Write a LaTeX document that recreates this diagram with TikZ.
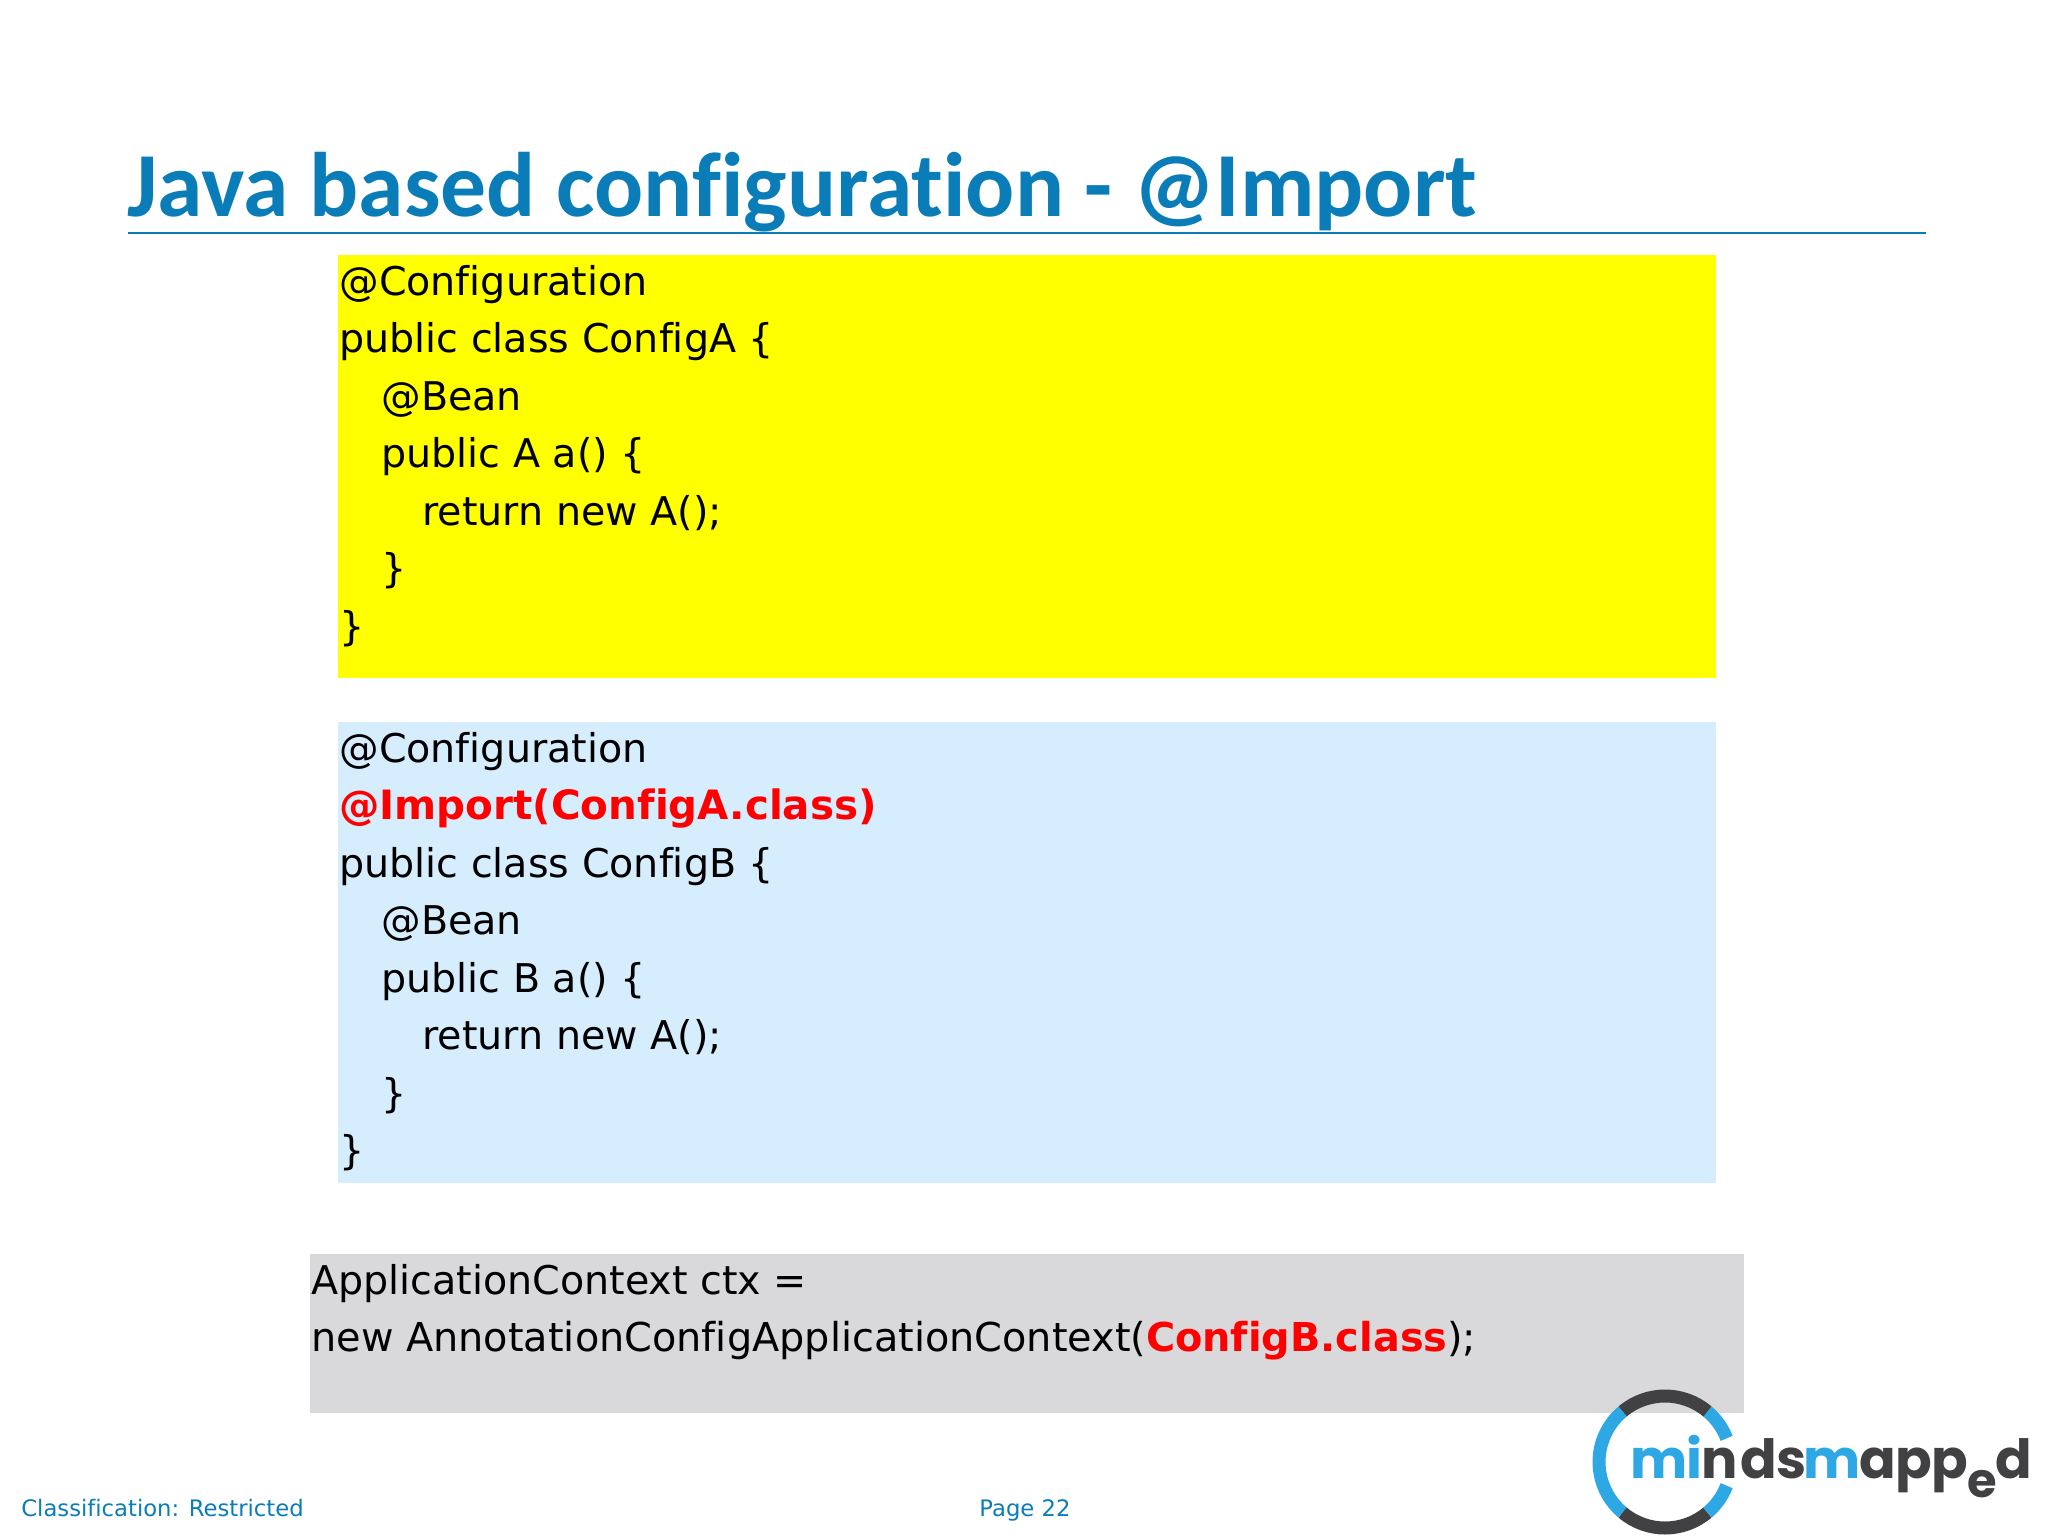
\documentclass[tikz,border=0pt]{standalone}
\usepackage{fontspec}
\setmainfont[Ligatures=NoCommon]{DejaVu Sans}
\newfontfamily\titlefont[Ligatures=NoCommon]{Carlito}
\newfontfamily\logofont{Poppins}
\definecolor{titleblue}{HTML}{0A7DB8}
\definecolor{pureyellow}{HTML}{FFFF00}
\definecolor{paleblue}{HTML}{D6EDFD}
\definecolor{palegray}{HTML}{D9D9DB}
\definecolor{logoblue}{HTML}{2EA8E4}
\definecolor{logodark}{HTML}{414143}
\tikzset{
    codeline/.style={anchor=base west,inner sep=0pt,font=\fontsize{19.8}{24}\selectfont,text=black},
    footline/.style={anchor=base west,inner sep=0pt,font=\fontsize{11.35}{14}\selectfont,text=titleblue},
    logoletter/.style={anchor=base west,inner sep=0pt,font=\logofont\bfseries\fontsize{27}{32}\selectfont},
    ringpart/.style={line width=6.5pt},
}

\begin{document}
\begin{tikzpicture}[x=0.5pt,y=-0.5pt]

    \useasboundingbox (0,0) rectangle (2048,1536);

    % title
    \node[anchor=base west,inner sep=0pt,text=titleblue,font=\titlefont\bfseries\fontsize{45.8}{54}\selectfont] (title) at (127,216) {Java based configuration - @Import};
    \coordinate (ruleL) at (128,233);
    \coordinate (ruleR) at (1926,233);
    \draw[titleblue,line width=0.6pt] (ruleL) -- (ruleR);

    % boxes
    \fill[pureyellow] (338,255) rectangle (1716,678);
    \fill[paleblue] (338,722) rectangle (1716,1183);
    \fill[palegray] (310,1254) rectangle (1744,1413);

    % ConfigA
    \node[codeline] (a1) at (339,295) {@Configuration};
    \node[codeline] (a2) at (339,352) {public class ConfigA \{};
    \node[codeline] (a3) at (381,410) {@Bean};
    \node[codeline] (a4) at (381,467) {public A a() \{};
    \node[codeline] (a5) at (422,525) {return new A();};
    \node[codeline] (a6) at (381,582) {\}};
    \node[codeline] (a7) at (339,640) {\}};

    % ConfigB
    \node[codeline] (b1) at (339,762) {@Configuration};
    \node[codeline,text=red,font=\fontsize{20.2}{24}\selectfont\bfseries] (b2) at (339,819) {@Import(ConfigA.class)};
    \node[codeline] (b3) at (339,877) {public class ConfigB \{};
    \node[codeline] (b4) at (381,934) {@Bean};
    \node[codeline] (b5) at (381,992) {public B a() \{};
    \node[codeline] (b6) at (422,1049) {return new A();};
    \node[codeline] (b7) at (381,1107) {\}};
    \node[codeline] (b8) at (339,1164) {\}};

    % context
    \node[codeline] (c1) at (311,1294) {ApplicationContext ctx =};
    \node[codeline,font=\fontsize{19.9}{24}\selectfont] (c2) at (311,1351) {new AnnotationConfigApplicationContext(\textcolor{red}{\bfseries ConfigB.class});};

    % footer
    \node[footline] (foot) at (21,1516) {Classification: Restricted};
    \node[footline] (page) at (979,1516) {Page 22};

    % logo ring
    \coordinate (ring) at (1665,1462);
    \draw[logoblue,ringpart] (ring) ++(-21:66) arc[start angle=-21,end angle=-50,radius=66];
    \draw[logodark,ringpart] (ring) ++(-50:66) arc[start angle=-50,end angle=-130,radius=66];
    \draw[logoblue,ringpart] (ring) ++(-130:66) arc[start angle=-130,end angle=-230,radius=66];
    \draw[logodark,ringpart] (ring) ++(-230:66) arc[start angle=-230,end angle=-310,radius=66];
    \draw[logoblue,ringpart] (ring) ++(-310:66) arc[start angle=-310,end angle=-339,radius=66];

    % logo letters
    \node[logoletter,text=logoblue] (m1) at (1630,1478) {m};
    \node[logoletter,text=logoblue] (i1) at (1686,1478) {i};
    \node[logoletter,text=logodark] (n1) at (1701,1478) {n};
    \node[logoletter,text=logodark] (d1) at (1740,1478) {d};
    \node[logoletter,text=logodark] (s1) at (1776,1478) {s};
    \node[logoletter,text=logoblue] (m2) at (1803,1478) {m};
    \node[logoletter,text=logodark] (a1l) at (1859,1478) {a};
    \node[logoletter,text=logodark] (p1) at (1895,1478) {p};
    \node[logoletter,text=logodark] (p2) at (1931,1478) {p};
    \node[logoletter,text=logodark,font=\logofont\bfseries\fontsize{24}{28}\selectfont] (e1) at (1967,1497) {e};
    \node[logoletter,text=logodark] (d2) at (1995,1478) {d};

\end{tikzpicture}
\end{document}
